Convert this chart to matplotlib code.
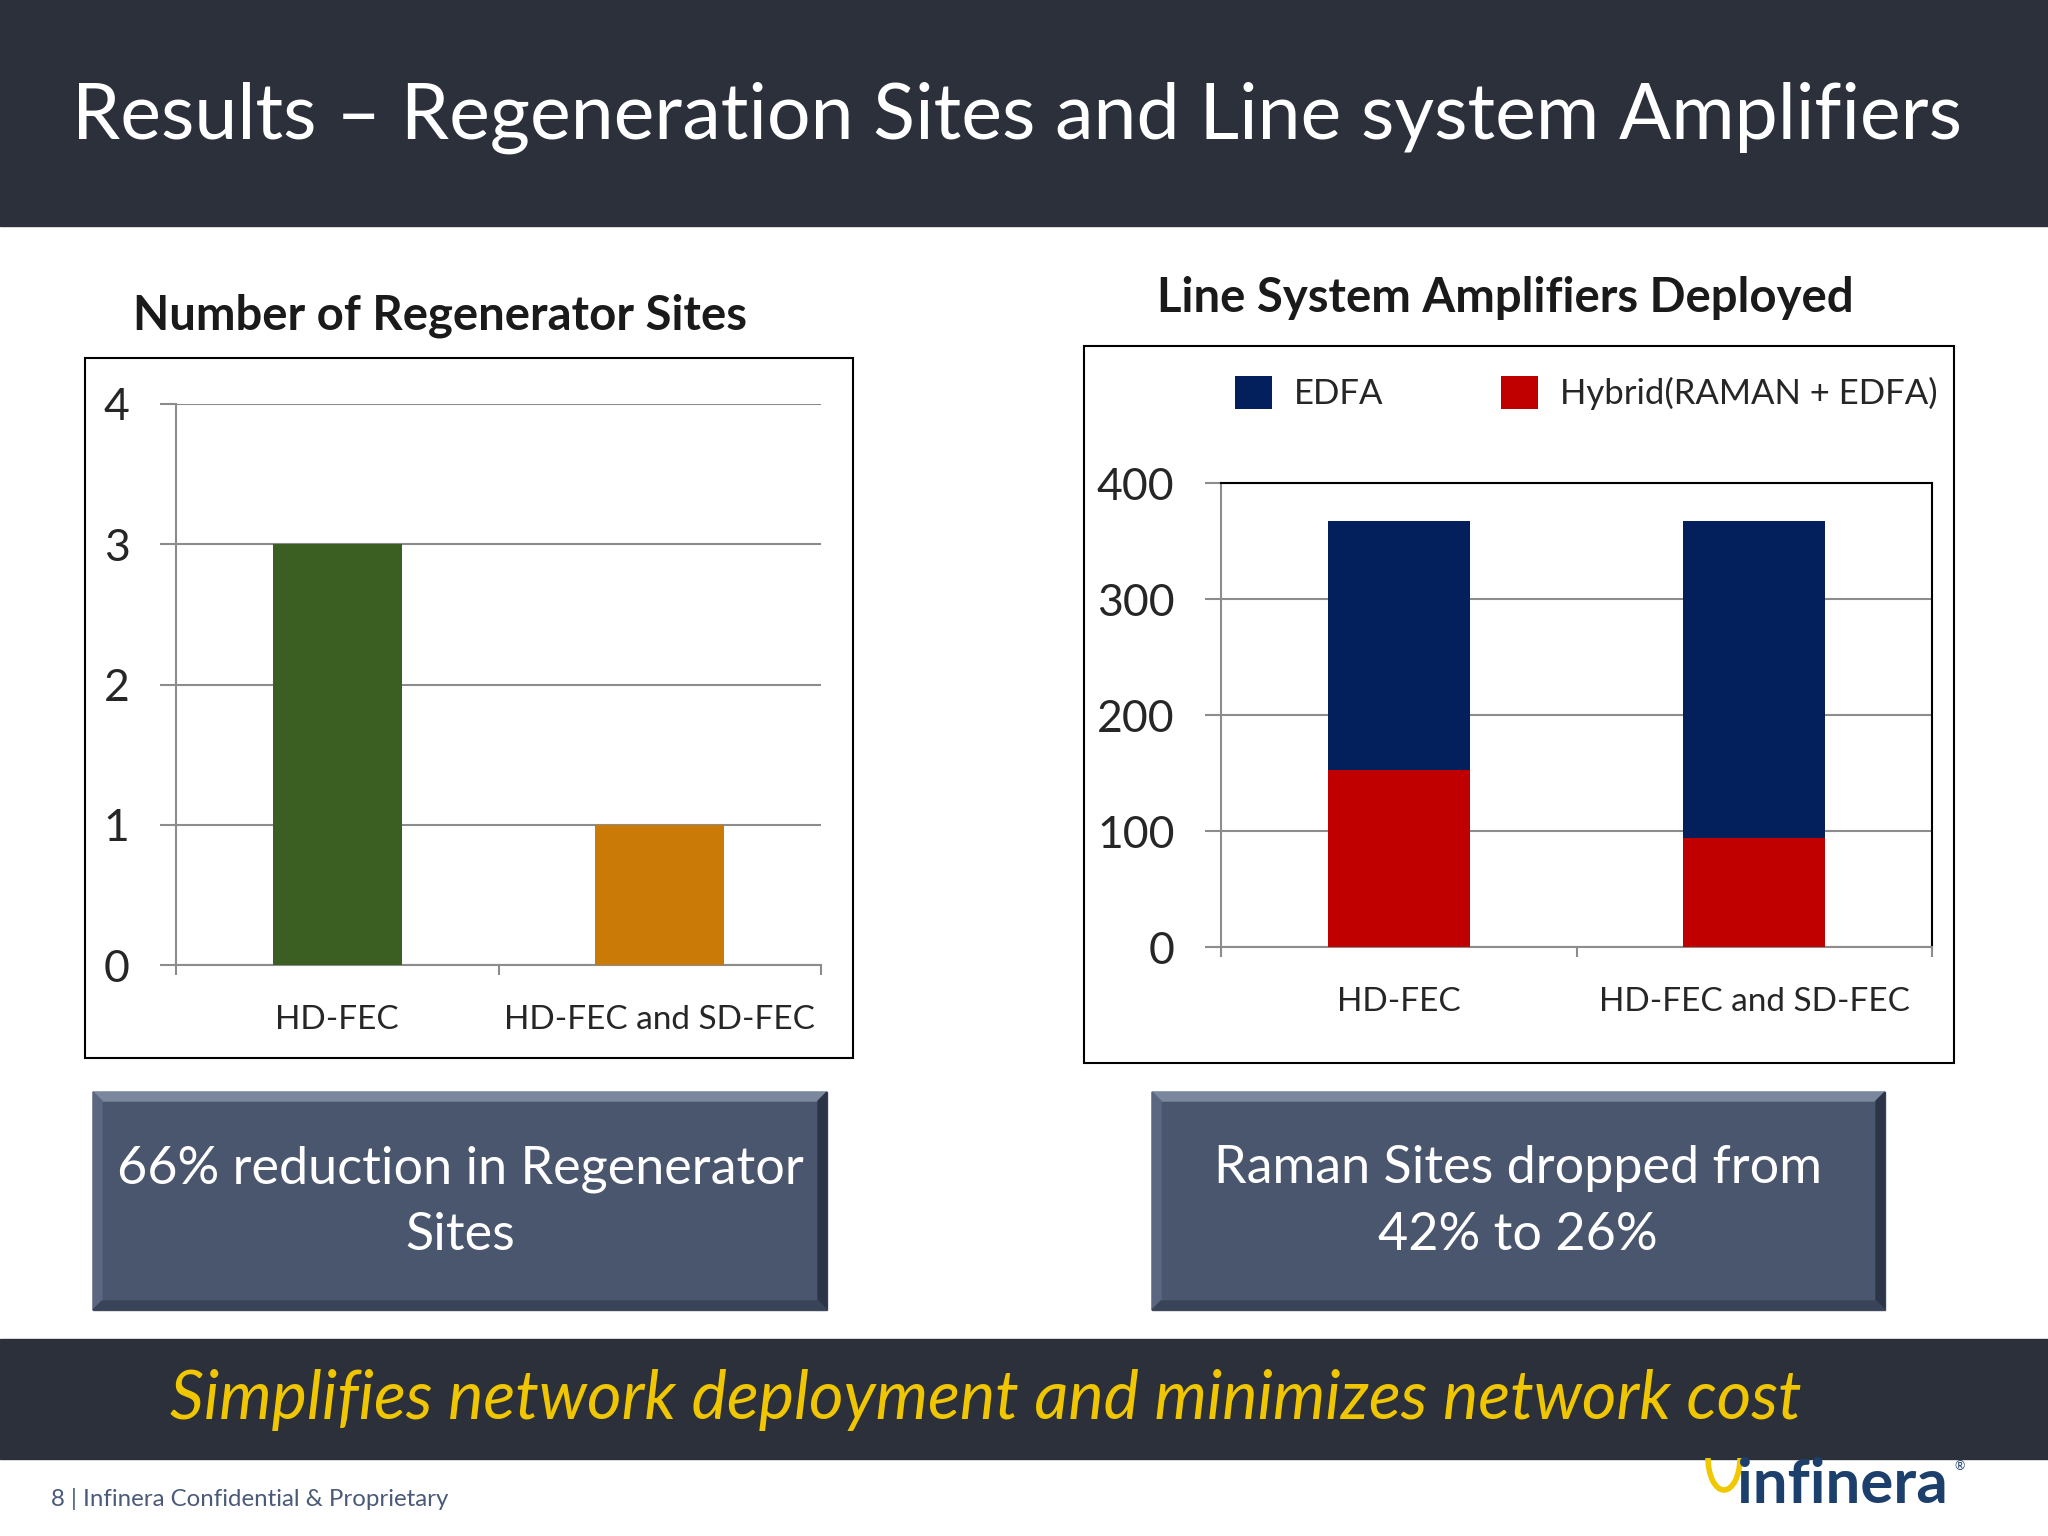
import matplotlib
matplotlib.use("Agg")
import matplotlib.pyplot as plt
from matplotlib.patches import Rectangle, Polygon, Arc

plt.rcParams['font.family'] = ['Lato', 'DejaVu Sans']

# data
categories = ["HD-FEC", "HD-FEC and SD-FEC"]
regen_sites = [3, 1]
hybrid_amps = [153, 94]
edfa_amps = [214, 273]
regen_colors = ["#3b5e23", "#c97a07"]

W, H = 2048, 1536
dark = "#2b303b"
grid_c = "#8c8c8c"
txt_c = "#262626"

fig = plt.figure(figsize=(W / 100, H / 100), dpi=100)
bg = fig.add_axes([0, 0, 1, 1])
bg.set_xlim(0, W)
bg.set_ylim(H, 0)
bg.axis("off")


def px_axes(x0, y0, x1, y1):
    return fig.add_axes([x0 / W, 1 - y1 / H, (x1 - x0) / W, (y1 - y0) / H])


def bevel_box(x0, y0, x1, y1, b=9):
    bg.add_patch(Rectangle((x0, y0), x1 - x0, y1 - y0, color="#4a566e"))
    bg.add_patch(Polygon([(x0, y0), (x1, y0), (x1 - b, y0 + b), (x0 + b, y0 + b)],
                         color="#7b879d"))
    bg.add_patch(Polygon([(x0, y0), (x0 + b, y0 + b), (x0 + b, y1 - b), (x0, y1)],
                         color="#5b6781"))
    bg.add_patch(Polygon([(x1, y0), (x1, y1), (x1 - b, y1 - b), (x1 - b, y0 + b)],
                         color="#2c3547"))
    bg.add_patch(Polygon([(x0, y1), (x1, y1), (x1 - b, y1 - b), (x0 + b, y1 - b)],
                         color="#3a4458"))


# header band
bg.add_patch(Rectangle((0, 0), W, 226, color=dark))
bg.text(72, 118, "Results – Regeneration Sites and Line system Amplifiers",
        color="white", fontsize=55.5, ha="left", va="center")

# chart frames and titles
bg.add_patch(Rectangle((85, 358), 768, 700, fill=False, ec="black", lw=1.5))
bg.add_patch(Rectangle((1084, 346), 870, 717, fill=False, ec="black", lw=1.5))
bg.text(440, 316, "Number of Regenerator Sites", fontsize=34, weight="bold",
        ha="center", va="center", color="#1a1a1a")
bg.text(1505, 298, "Line System Amplifiers Deployed", fontsize=34, weight="bold",
        ha="center", va="center", color="#1a1a1a")

x = list(range(len(categories)))


def style_axis(ax, ymax, step):
    ax.set_xlim(-0.5, len(categories) - 0.5)
    ax.set_ylim(0, ymax)
    ax.set_yticks(range(0, ymax + 1, step))
    ax.grid(axis="y", color=grid_c, lw=1.5)
    ax.set_axisbelow(True)
    ax.set_xticks([-0.5, 0.5, 1.5])
    ax.set_xticklabels([])
    ax.set_xticks(x, minor=True)
    ax.set_xticklabels(categories, minor=True)
    ax.tick_params(axis="y", length=11.5, width=1.5, color=grid_c, pad=22,
                   labelsize=32, labelcolor=txt_c)
    ax.tick_params(axis="x", which="major", length=7, width=1.5, color=grid_c)
    ax.tick_params(axis="x", which="minor", length=0, pad=29,
                   labelsize=24, labelcolor=txt_c)
    for s in ("left", "bottom"):
        ax.spines[s].set_color(grid_c)
        ax.spines[s].set_linewidth(1.5)
    ax.patch.set_alpha(0)


# left chart
ax1 = px_axes(176, 404, 821, 965)
ax1.bar(x, regen_sites, width=0.4, color=regen_colors, zorder=3)
style_axis(ax1, 4, 1)
ax1.spines["top"].set_visible(False)
ax1.spines["right"].set_visible(False)

# right chart
ax2 = px_axes(1221, 483, 1932, 947)
b_hyb = ax2.bar(x, hybrid_amps, width=0.4, color="#c00000", zorder=3)
b_edfa = ax2.bar(x, edfa_amps, width=0.4, bottom=hybrid_amps,
                 color="#031f5c", zorder=3)
style_axis(ax2, 400, 100)
for s in ("top", "right"):
    ax2.spines[s].set_color("black")
    ax2.spines[s].set_linewidth(1.5)

leg = fig.legend([b_edfa, b_hyb], ["EDFA", "Hybrid(RAMAN + EDFA)"],
                 loc="center left", bbox_to_anchor=(1235 / W, 1 - 393 / H),
                 ncol=2, frameon=False, fontsize=25, handlelength=1.07,
                 handleheight=1.07, handletextpad=0.63, columnspacing=3.37,
                 borderpad=0, borderaxespad=0)
for t in leg.get_texts():
    t.set_color(txt_c)

# callout boxes
bevel_box(93, 1092, 827, 1310)
bevel_box(1152, 1092, 1885, 1310)
bg.text(460, 1169, "66% reduction in Regenerator", color="white", fontsize=37.5,
        ha="center", va="center")
bg.text(460, 1235, "Sites", color="white", fontsize=37.5, ha="center", va="center")
bg.text(1518, 1169, "Raman Sites dropped from", color="white", fontsize=37.5,
        ha="center", va="center")
bg.text(1518, 1235, "42% to 26%", color="white", fontsize=37.5,
        ha="center", va="center")

# bottom band
bg.add_patch(Rectangle((0, 1339), W, 120, color=dark))
bg.text(986, 1400, "Simplifies network deployment and minimizes network cost",
        color="#efc600", fontsize=48, style="italic", ha="center", va="center")

# footer
bg.text(51, 1499, "8 | Infinera Confidential & Proprietary", fontsize=17.3,
        color="#4b5a78", ha="left", va="center")
bg.add_patch(Arc((1724, 1458), 32, 64, theta1=0, theta2=180,
                 color="#f0c800", lw=4))
bg.text(1737, 1503, "infinera", fontsize=44.5, weight="bold", color="#1d3f6b",
        ha="left", va="baseline")
bg.text(1954, 1466, "®", fontsize=9, color="#1d3f6b", ha="left", va="center")

fig.savefig("out.png", dpi=100)
